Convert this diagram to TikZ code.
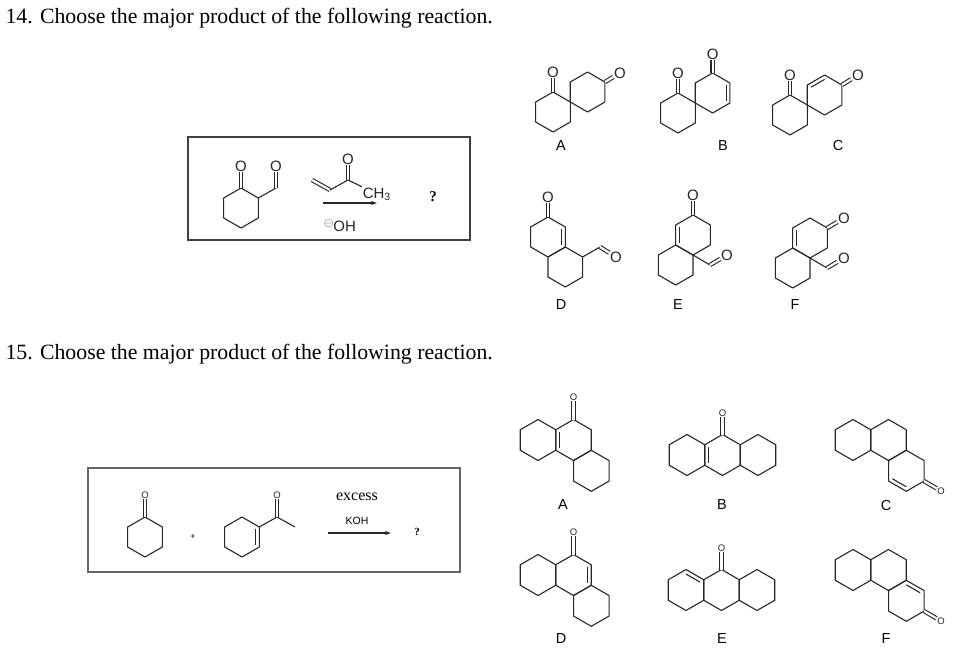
\documentclass[tikz,border=0pt]{standalone}
\usepackage{fontspec}
\setmainfont{Liberation Serif}
\newfontfamily\lsans{Liberation Sans}
\usetikzlibrary{calc,arrows.meta}
\newcommand\hexa[4]{%
 \coordinate (#1c) at (#2,#3);
 \coordinate (#1t) at ($(#2,#3)+(0,-#4)$);
 \coordinate (#1ur) at ($(#2,#3)+({0.866*#4},{-0.5*#4})$);
 \coordinate (#1lr) at ($(#2,#3)+({0.866*#4},{0.5*#4})$);
 \coordinate (#1b) at ($(#2,#3)+(0,#4)$);
 \coordinate (#1ll) at ($(#2,#3)+({-0.866*#4},{0.5*#4})$);
 \coordinate (#1ul) at ($(#2,#3)+({-0.866*#4},{-0.5*#4})$);
 \draw[bond] (#1t)--(#1ur)--(#1lr)--(#1b)--(#1ll)--(#1ul)--cycle;}
\newcommand\innerdb[3]{\draw[bond] ($(#1c)!0.78!(#2)$) -- ($(#1c)!0.78!(#3)$);}
\newcommand\carbonyl[4]{% from coord #1, O node name #2 at (#3), font #4
 \node[atom,font=#4] (#2) at (#3) {O};
 \draw[bond,double,double distance=2.2pt] (#1) -- (#2);}
\begin{document}
\begin{tikzpicture}[x=1pt,y=-1pt,
 bond/.style={line width=1.1pt,line join=round,draw=black!85},
 atom/.style={inner sep=0.6pt,text=black!85},
 lab/.style={font=\lsans\fontsize{14.5}{14.5}\selectfont},
 boxst/.style={line width=1.3pt,draw=black!75}]
\useasboundingbox (0,0) rectangle (956,649);
\node[anchor=west,font=\fontsize{21.8}{22}\selectfont] (t14) at (2,18) {14. Choose the major product of the following reaction.};
\node[anchor=west,font=\fontsize{21.8}{22}\selectfont] (t15) at (2,354) {15. Choose the major product of the following reaction.};
% ---- Q14 reactant box
\draw[boxst] (188,137) rectangle (470,240);
\def\fo{\lsans\fontsize{15}{15}\selectfont}
\hexa{R}{241}{208}{20}
\carbonyl{Rt}{RO}{241,166}{\fo}
\coordinate (ra) at (276,188);
\draw[bond] (Rur) -- (ra);
\carbonyl{ra}{raO}{276,166}{\fo}
\coordinate (v1) at (312,180); \coordinate (v2) at (330,190); \coordinate (v3) at (348,180);
\draw[bond,double,double distance=2.2pt] (v1) -- (v2);
\draw[bond] (v2) -- (v3);
\carbonyl{v3}{vO}{348,159}{\fo}
\node[atom,anchor=west,font=\fo] (ch3) at (362,194) {CH\textsubscript{3}};
\draw[bond] (v3) -- (ch3.north west);
\coordinate (a1) at (323,203); \coordinate (a2) at (377,203);
\draw[bond,-{Stealth[length=6pt,width=4pt]}] (a1) -- (a2);
\node[atom,font=\fo] (oh) at (340,226) {\raisebox{5pt}{\fontsize{12}{12}\selectfont$\ominus$}OH};
\node[font=\bfseries\fontsize{15}{15}\selectfont] (q14) at (433,197) {?};
% ---- Q14 products
\hexa{AL}{553}{112}{20} \hexa{AR}{587.6}{92}{20}
\carbonyl{ALt}{AO1}{553,72}{\fo}
\carbonyl{ARur}{AO2}{620,73}{\fo}
\hexa{BL}{678}{113}{20} \hexa{BR}{712.6}{93}{20}
\carbonyl{BLt}{BO1}{678,73}{\fo}
\carbonyl{BRt}{BO2}{712.6,54}{\fo}
\innerdb{BR}{BRur}{BRlr}
\hexa{CL}{790}{115}{20} \hexa{CR}{824.6}{95}{20}
\carbonyl{CLt}{CO1}{790,75}{\fo}
\carbonyl{CRur}{CO2}{858,75}{\fo}
\innerdb{CR}{CRul}{CRt}
\node[lab] (lA) at (561,146) {A};
\node[lab] (lB) at (723,146) {B};
\node[lab] (lC) at (838,146) {C};
\hexa{DU}{548}{237}{20} \hexa{DW}{565.3}{267}{20}
\carbonyl{DUt}{DO1}{548,197}{\fo}
\innerdb{DU}{DUur}{DUlr}
\coordinate (d1) at (600,247); \draw[bond] (DWur) -- (d1);
\carbonyl{d1}{DO2}{616,257}{\fo}
\hexa{EU}{693}{235}{20} \hexa{EW}{675.7}{265}{20}
\carbonyl{EUt}{EO1}{693,195}{\fo}
\innerdb{EU}{EUul}{EUll}
\coordinate (e1) at (710,265); \draw[bond] (EUb) -- (e1);
\carbonyl{e1}{EO2}{727,255}{\fo}
\hexa{FU}{810}{238}{20} \hexa{FW}{792.7}{268}{20}
\carbonyl{FUur}{FO1}{844,218}{\fo}
\innerdb{FU}{FUul}{FUll}
\coordinate (f1) at (827,268); \draw[bond] (FUb) -- (f1);
\carbonyl{f1}{FO2}{844,258}{\fo}
\node[lab] (lD) at (561,305) {D};
\node[lab] (lE) at (678,305) {E};
\node[lab] (lF) at (795,305) {F};
% ---- Q15 reactant box
\draw[boxst,draw=black!60,line width=1.6pt] (88,468) rectangle (460,572);
\def\fs{\lsans\fontsize{9.5}{9.5}\selectfont}
\hexa{K}{145}{537}{20}
\carbonyl{Kt}{KO}{145,495}{\fs}
\node[font=\bfseries\fontsize{9}{9}\selectfont] (plus) at (193,537) {+};
\hexa{H}{242}{537}{20}
\innerdb{H}{Hur}{Hlr}
\coordinate (h1) at (277,517); \coordinate (h2) at (295,527);
\draw[bond] (Hur) -- (h1) -- (h2);
\carbonyl{h1}{HO}{277,495}{\fs}
\node[font=\fontsize{16}{16}\selectfont] (exc) at (357,497) {excess};
\node[font=\lsans\fontsize{10.5}{10.5}\selectfont] (koh) at (357,521) {KOH};
\coordinate (b1) at (328,533); \coordinate (b2) at (391,533);
\draw[bond,-{Stealth[length=6pt,width=4pt]}] (b1) -- (b2);
\node[font=\bfseries\fontsize{11}{11}\selectfont] (q15) at (417,532) {?};
% ---- Q15 products
\hexa{PAL}{538}{440}{20.5} \hexa{PAM}{573.5}{440}{20.5} \hexa{PAW}{591.3}{470.8}{20.5}
\carbonyl{PAMt}{PAO}{573.5,397}{\fs}
\innerdb{PAM}{PAMul}{PAMll}
\hexa{PBL}{687}{455}{20.5} \hexa{PBM}{722.5}{455}{20.5} \hexa{PBR}{758}{455}{20.5}
\carbonyl{PBMt}{PBO}{722.5,413}{\fs}
\innerdb{PBM}{PBMul}{PBMll}
\hexa{PCL}{853}{440}{20.5} \hexa{PCM}{888.5}{440}{20.5} \hexa{PCW}{906.3}{470.8}{20.5}
\carbonyl{PCWlr}{PCO}{941,491}{\fs}
\innerdb{PCW}{PCWll}{PCWb}
\hexa{PDL}{538}{575}{20.5} \hexa{PDM}{573.5}{575}{20.5} \hexa{PDW}{591.3}{605.8}{20.5}
\carbonyl{PDMt}{PDO}{573.5,532}{\fs}
\innerdb{PDM}{PDMur}{PDMlr}
\hexa{PEL}{686}{590}{20.5} \hexa{PEM}{721.5}{590}{20.5} \hexa{PER}{757}{590}{20.5}
\carbonyl{PEMt}{PEO}{721.5,548}{\fs}
\innerdb{PEL}{PELt}{PELur}
\hexa{PFL}{853}{570}{20.5} \hexa{PFM}{888.5}{570}{20.5} \hexa{PFW}{906.3}{600.8}{20.5}
\carbonyl{PFWlr}{PFO}{941,621}{\fs}
\innerdb{PFW}{PFWt}{PFWur}
\node[lab] (qA) at (563,505) {A};
\node[lab] (qB) at (722,505) {B};
\node[lab] (qC) at (886,505) {C};
\node[lab] (qD) at (561,638) {D};
\node[lab] (qE) at (722,638) {E};
\node[lab] (qF) at (886,638) {F};
\end{tikzpicture}
\end{document}
